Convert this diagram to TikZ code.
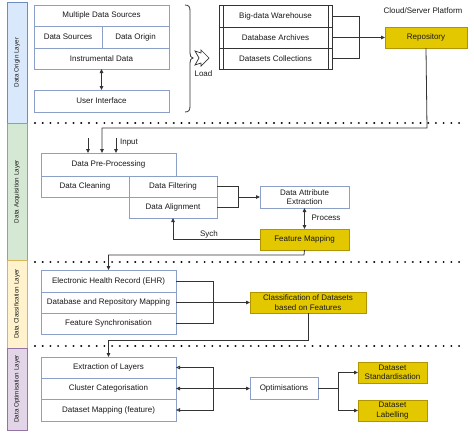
\documentclass[tikz,border=0pt]{standalone}
\usepackage{fontspec}
\setmainfont{Liberation Sans}
\usetikzlibrary{arrows.meta}
\definecolor{boxb}{HTML}{8C9FC9}
\definecolor{txt}{HTML}{1A1A1A}
\definecolor{conn}{HTML}{333333}
\definecolor{yelf}{HTML}{E3C800}
\definecolor{yeld}{HTML}{B09500}
\definecolor{bluef}{HTML}{DAE8FC}
\definecolor{blued}{HTML}{6C8EBF}
\definecolor{greenf}{HTML}{D5E8D4}
\definecolor{greend}{HTML}{82B366}
\definecolor{lyelf}{HTML}{FFF2CC}
\definecolor{lyeld}{HTML}{D6B656}
\definecolor{purf}{HTML}{E1D5E7}
\definecolor{purd}{HTML}{9673A6}
\begin{document}
\begin{tikzpicture}[x=1pt,y=-1pt,
  font=\fontsize{8}{9.5}\selectfont,
  box/.style={draw=boxb, fill=white, line width=0.8pt, inner sep=0pt, outer sep=0pt, align=center, text=txt},
  wbox/.style={box, draw=conn},
  ybox/.style={box, draw=yeld, fill=yelf},
  layer/.style={rotate=90, inner sep=0pt, outer sep=0pt, line width=0.6pt, minimum height=20pt, text=txt, font=\fontsize{6.3}{7}\selectfont},
  conline/.style={draw=conn, line width=0.8pt},
  arr/.style={conline, -{Triangle[length=4pt,width=3.5pt]}},
  darr/.style={conline, {Triangle[length=4pt,width=3.5pt]}-{Triangle[length=4pt,width=3.5pt]}},
  oarr/.style={conline, -{Triangle[open,length=4pt,width=3.5pt]}},
  sep/.style={draw=black, line width=2.2pt, line cap=round, dash pattern=on 0.01pt off 7.7pt},
  lbl/.style={inner sep=0pt, text=txt}
]
\useasboundingbox (0,0) rectangle (474,437);

% layer bars
\node[layer, fill=bluef, draw=blued, minimum width=121pt] (lorig) at (17,62.5) {Data Origin Layer};
\node[layer, fill=greenf, draw=greend, minimum width=137pt] (lacq) at (17,191.5) {Data Acquisition Layer};
\node[layer, fill=lyelf, draw=lyeld, minimum width=88pt] (lcls) at (17,304) {Data Classification Layer};
\node[layer, fill=purf, draw=purd, minimum width=82pt] (lopt) at (17,389) {Data Optimisation Layer};

% separators
\draw[sep] (35,123) -- (462,123);
\draw[sep] (35,262) -- (462,262);
\draw[sep] (35,346) -- (462,346);

% data origin layer
\node[box, minimum width=135pt, minimum height=21pt] (mds) at (101.5,15.5) {Multiple Data Sources};
\node[box, minimum width=68pt, minimum height=22pt] (ds) at (68,37) {Data Sources};
\node[box, minimum width=67pt, minimum height=22pt] (dor) at (135.5,37) {Data Origin};
\node[box, minimum width=135pt, minimum height=21pt] (inst) at (101.5,58.5) {Instrumental Data};
\node[box, minimum width=135pt, minimum height=22pt] (ui) at (101.5,101) {User Interface};
\draw[darr] (inst.south) -- (ui.north);

% brace and load
\draw[conn, line width=0.8pt] (185,5) .. controls (189,5) and (190,7) .. (190,11) -- (190,53) .. controls (190,56) and (191,58) .. (193,58) .. controls (191,58) and (190,60) .. (190,63) -- (190,106) .. controls (190,110) and (189,112) .. (185,112);
\draw[conn, line width=0.7pt, fill=white] (195,51) -- (201,53) -- (201,50) -- (209,58) -- (201,66) -- (201,63) -- (195,65) -- (199,58) -- cycle;
\node[lbl] (load) at (203.5,74) {Load};

% warehouse
\node[wbox, minimum width=113pt, minimum height=22pt] (bdw) at (275.5,16) {Big-data Warehouse};
\node[wbox, minimum width=113pt, minimum height=21pt] (dba) at (275.5,37.5) {Database Archives};
\node[wbox, minimum width=113pt, minimum height=21pt] (dsc) at (275.5,58.5) {Datasets Collections};
\draw[conn, line width=0.8pt] (223,5) -- (223,69) (328,5) -- (328,69);

\node[ybox, minimum width=82pt, minimum height=21pt] (repo) at (426,37.5) {Repository};
\node[lbl] (cloud) at (423,11) {Cloud/Server Platform};
\draw[conline] (bdw.east) -- (359,16) -- (359,58.5) -- (dsc.east);
\draw[arr] (dba.east) -- (repo.west);

% acquisition layer
\node[box, minimum width=135pt, minimum height=44pt] (pcbox) at (108.5,175) {};
\node[lbl] (pre) at (108.5,164.5) {Data Pre-Processing};
\node[lbl] (clean) at (85,186.5) {Data Cleaning};
\draw[draw=boxb, line width=0.8pt] (41,176) -- (129,176);
\node[box, minimum width=88pt, minimum height=21pt] (filt) at (173,186.5) {Data Filtering};
\node[box, minimum width=88pt, minimum height=21pt] (align) at (173,207.5) {Data Alignment};
\node[box, minimum width=89pt, minimum height=22pt] (dae) at (304.5,197) {Data Attribute\\Extraction};
\node[ybox, minimum width=89pt, minimum height=21pt] (fm) at (304.5,239.5) {Feature Mapping};

\coordinate (in1) at (88,138);
\coordinate (in3) at (116,138);
\draw[arr] (repo.south) -- (427,128) -- (102,128) -- (102,153);
\draw[arr] (in1) -- (88,153);
\draw[arr] (in3) -- (116,153);
\node[lbl] (input) at (129,143) {Input};

\draw[conline] (filt.east) -- (238,186.5) -- (238,207.5) -- (align.east);
\draw[arr] (238,197) -- (dae.west);
\draw[darr] (dae.south) -- (fm.north);
\node[lbl] (process) at (326,218) {Process};
\draw[arr] (fm.west) -- (173,239.5) -- (align.south);
\node[lbl] (sych) at (209,234) {Sych};

% classification layer
\node[box, minimum width=135pt, minimum height=22pt] (ehr) at (108.5,281) {Electronic Health Record (EHR)};
\node[box, minimum width=135pt, minimum height=21pt] (drm) at (108.5,302.5) {Database and Repository Mapping};
\node[box, minimum width=135pt, minimum height=21pt] (fs) at (108.5,323.5) {Feature Synchronisation};
\node[ybox, minimum width=116pt, minimum height=21pt] (cls) at (308,302.5) {Classification of Datasets\\based on Features};
\draw[arr] (fm.south) -- (304,255) -- (108.5,255) -- (ehr.north);
\draw[conline] (ehr.east) -- (213,281) -- (213,323.5) -- (fs.east);
\draw[arr] (drm.east) -- (cls.west);

% optimisation layer
\node[box, minimum width=135pt, minimum height=21pt] (eol) at (108.5,367.5) {Extraction of Layers};
\node[box, minimum width=135pt, minimum height=21pt] (cc) at (108.5,388.5) {Cluster Categorisation};
\node[box, minimum width=135pt, minimum height=22pt] (dmf) at (108.5,410) {Dataset Mapping (feature)};
\node[box, minimum width=68pt, minimum height=22pt] (opt) at (284,388.5) {Optimisations};
\node[ybox, minimum width=69pt, minimum height=21pt] (dstd) at (392.5,372.5) {Dataset\\Standardisation};
\node[ybox, minimum width=69pt, minimum height=21pt] (dlab) at (392.5,410.5) {Dataset\\Labelling};
\draw[arr] (cls.south) -- (308,340) -- (108.5,340) -- (eol.north);
\draw[darr] (opt.west) -- (cc.east);
\draw[oarr] (213,388.5) -- (213,367.5) -- (eol.east);
\draw[oarr] (213,388.5) -- (213,410) -- (dmf.east);
\draw[conline] (opt.east) -- (338,388.5);
\draw[arr] (338,388.5) -- (338,372.5) -- (dstd.west);
\draw[arr] (338,388.5) -- (338,410.5) -- (dlab.west);
\end{tikzpicture}
\end{document}
